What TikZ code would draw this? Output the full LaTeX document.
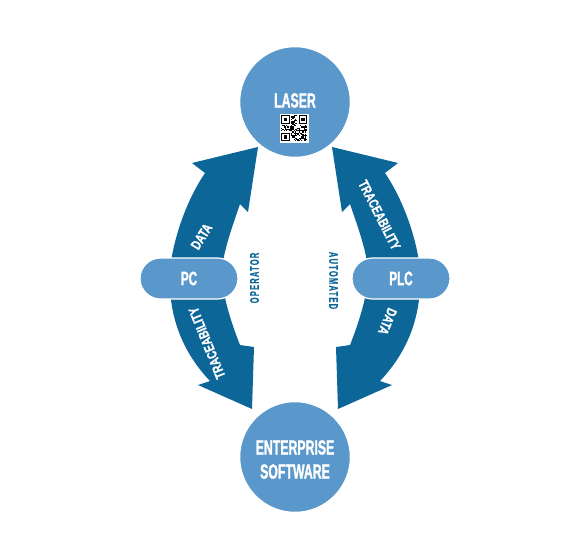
\documentclass[tikz,border=0pt]{standalone}
\usepackage{fontspec}
\newfontfamily\cf{Liberation Sans}[FakeStretch=0.6,FakeBold=1.2]
\newfontfamily\cfs{Liberation Sans}[FakeStretch=0.74,FakeBold=0.8]
\newfontfamily\cfl{Liberation Sans}[FakeStretch=0.6,LetterSpace=10,FakeBold=0.6]
\definecolor{lightb}{HTML}{5A98CB}
\definecolor{darkb}{HTML}{0D6698}
\begin{document}
\begin{tikzpicture}[x=1pt,y=-1pt,
  hub/.style={circle, fill=lightb, draw=white, line width=1.5pt, minimum size=111pt, inner sep=0pt},
  hubtext/.style={text=white, inner sep=0pt, align=center, font=\cf\bfseries\fontsize{20.5}{24}\selectfont},
  pill/.style={rectangle, rounded corners=20.5pt, fill=lightb, draw=white, line width=1.2pt, minimum width=98pt, minimum height=41pt, inner sep=0pt, text=white, font=\cf\bfseries\fontsize{19.5}{22}\selectfont},
  arr/.style={fill=darkb},
  alabel/.style={text=white, inner sep=0pt, font=\cfs\bfseries\fontsize{14}{16}\selectfont},
  side/.style={text=darkb, inner sep=0pt, font=\cfl\bfseries\fontsize{12.5}{14}\selectfont}]
\useasboundingbox (0,0) rectangle (588,541);
\fill[white] (0,0) rectangle (588,541);
% arrows (left side, then mirrored right side)
\foreach \m in {0,1}{
\begin{scope}[xshift=\m*590pt, xscale=1-2*\m]
\fill[arr] (170,268) .. controls (175,230) and (190,195) .. (205,173) -- (192,163) -- (258,147) -- (248,212) -- (240,204) .. controls (234,222) and (225,245) .. (222,268) -- cycle;
\fill[arr] (170,288) .. controls (172,330) and (190,360) .. (210,381) -- (198,385) -- (252,409) -- (254,347) -- (240,345) .. controls (232,325) and (226,305) .. (223,288) -- cycle;
\end{scope}}
% hubs
\node[hub] (laser) at (295,102) {};
\node[hubtext] (lasert) at (295,100.5) {LASER};
\node[hub] (ent) at (295,457) {};
\node[hubtext] (entt) at (295,459.5) {ENTERPRISE\\SOFTWARE};
\node[pill] (pc) at (189,278.5) {PC};
\node[pill] (plc) at (401,278.5) {PLC};
% QR code
\fill[white] (279.5,113.5) rectangle (308.5,142.5);
\pgfmathsetseed{7}
\foreach \i in {0,...,20}{\foreach \j in {0,...,20}{%
  \pgfmathtruncatemacro\b{(rnd<0.5)}%
  \ifnum\b=1 \fill[black] ({281+\i*1.25},{115+\j*1.25}) rectangle +(1.25,1.25);\fi}}
\foreach \a/\c in {0/0,13/0,0/13}{\fill[white] ({281+\a*1.25},{115+\c*1.25}) rectangle +(10,10);}
\foreach \a/\c in {0/0,14/0,0/14}{
  \fill[black] ({281+\a*1.25},{115+\c*1.25}) rectangle +(8.75,8.75);
  \fill[white] ({281+(\a+1)*1.25},{115+(\c+1)*1.25}) rectangle +(6.25,6.25);
  \fill[black] ({281+(\a+2)*1.25},{115+(\c+2)*1.25}) rectangle +(3.75,3.75);}
% arrow labels
\node[alabel, rotate=58] (d1) at (201.5,236.5) {DATA};
\node[alabel, rotate=-63] (t1) at (379.5,215) {TRACEABILITY};
\node[alabel, rotate=112] (t2) at (207,343) {TRACEABILITY};
\node[alabel, rotate=-113] (d2) at (387.5,321.5) {DATA};
% side labels
\node[side, rotate=90] (op) at (254.5,278) {OPERATOR};
\node[side, rotate=-90] (au) at (333.5,280.5) {AUTOMATED};
\end{tikzpicture}
\end{document}
